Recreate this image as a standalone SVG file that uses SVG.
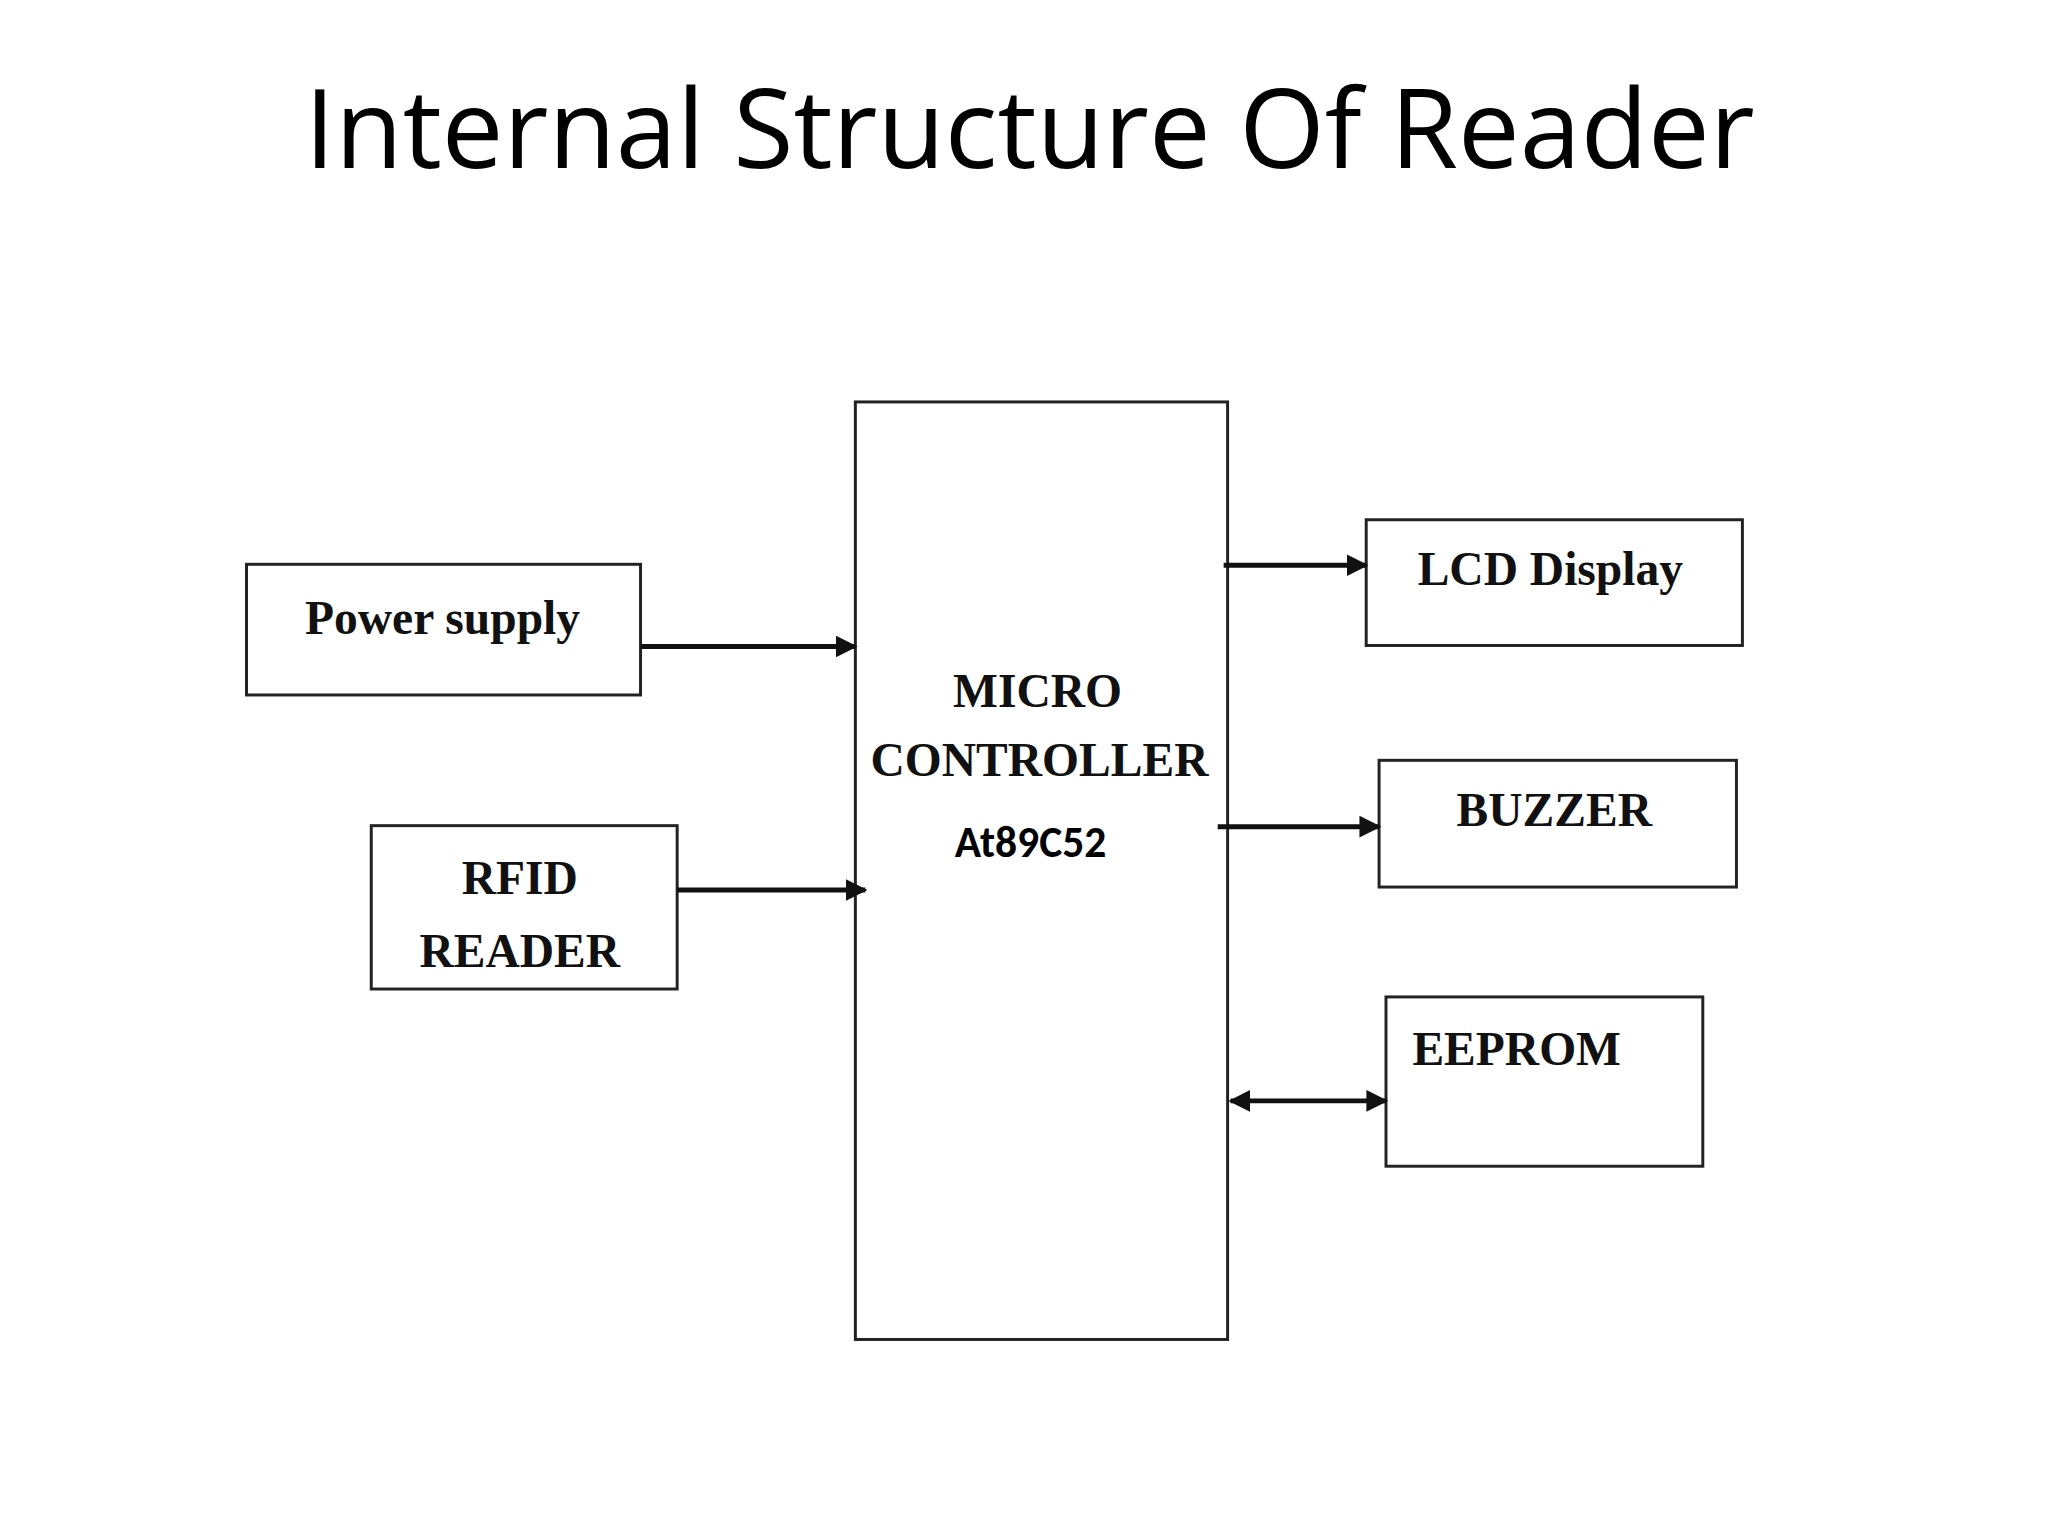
<svg xmlns="http://www.w3.org/2000/svg" width="2048" height="1536" viewBox="0 0 2048 1536">
<style>
.b{fill:#fff;stroke:#222;stroke-width:3}
.t{font-family:"Liberation Serif",serif;font-weight:bold;font-size:48px;fill:#111;text-anchor:middle}
.c{stroke:#111;stroke-width:5;fill:none}
</style>
<defs>
<marker id="h" viewBox="0 0 10 10" refX="9" refY="5" markerWidth="22" markerHeight="22" markerUnits="userSpaceOnUse" orient="auto-start-reverse"><path d="M0,0L10,5L0,10z" fill="#111"/></marker></defs>
<rect width="2048" height="1536" fill="#fff"/>
<g transform="scale(0.99)">
<text x="1040" y="170" font-family="'Open Sans','Noto Sans',sans-serif" font-size="111" text-anchor="middle" fill="#000">Internal Structure Of Reader</text>
<g id="mcu"><rect class="b" x="864" y="406" width="376" height="947"/>
<text class="t" x="1048" y="714" font-size="44">MICRO</text>
<text class="t" x="1050" y="784" font-size="44">CONTROLLER</text>
<text x="1041" y="866" font-family="Carlito,'Liberation Sans',sans-serif" font-weight="bold" font-size="44" text-anchor="middle">At89C52</text></g>
<g id="power"><rect class="b" x="249" y="570" width="398" height="132"/><text class="t" x="447" y="640">Power supply</text></g>
<g id="rfid"><rect class="b" x="375" y="834" width="309" height="165"/><text class="t" x="525" y="903">RFID</text><text class="t" x="525" y="977">READER</text></g>
<g id="lcd"><rect class="b" x="1380" y="525" width="380" height="127"/><text class="t" x="1566" y="591">LCD Display</text></g>
<g id="buzzer"><rect class="b" x="1393" y="768" width="361" height="128"/><text class="t" x="1570" y="834">BUZZER</text></g>
<g id="eeprom"><rect class="b" x="1400" y="1007" width="320" height="171"/><text class="t" x="1532" y="1076">EEPROM</text></g>
<g id="connectors">
<line class="c" x1="647" y1="653" x2="864" y2="653" marker-end="url(#h)"/>
<line class="c" x1="684" y1="899" x2="874" y2="899" marker-end="url(#h)"/>
<line class="c" x1="1236" y1="571" x2="1380" y2="571" marker-end="url(#h)"/>
<line class="c" x1="1230" y1="835" x2="1393" y2="835" marker-end="url(#h)"/>
<line class="c" x1="1243" y1="1112" x2="1400" y2="1112" marker-start="url(#h)" marker-end="url(#h)"/>
</g>
</g>
</svg>
